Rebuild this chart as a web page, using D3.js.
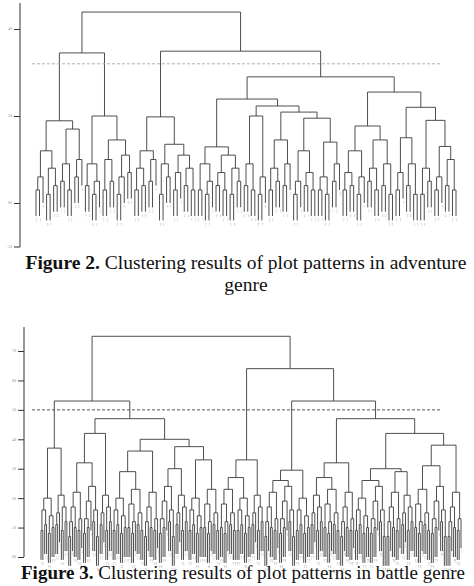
<!DOCTYPE html>
<html>
<head>
<meta charset="utf-8">
<script src="https://cdn.jsdelivr.net/npm/d3@7"></script>
<style>
  body { margin: 0; background: #fff; overflow: hidden; }
  text { font-family: "Liberation Serif", serif; }
</style>
</head>
<body>
<div id="chart"></div>
<script>
// --- Figure 2 (adventure) : merge heights, newick-ish "(a,b)h", x = leaf
const adv_L1   = "((((x,x)0.3,x)0.6,((x,x)0.2,(x,x)0.4)0.8)1.2,(((x,x)0.5,(x,x)0.3)0.9,((x,x)0.6,x)1.0)1.7)1.89";
const adv_L2   = "(((x,x)0.4,((x,x)0.2,x)0.5)0.9,(((x,x)0.3,(x,x)0.5)1.0,(((x,x)0.2,x)0.6,(x,x)0.7)1.1)1.45)2.0";
const adv_R1   = "((((x,x)0.3,(x,x)0.4)0.8,((x,x)0.5,x)1.0)1.2,(((x,x)0.2,(x,x)0.6)0.9,(((x,x)0.3,x)0.7,((x,x)0.4,(x,x)0.3)0.8)1.1)1.35)1.98";
const adv_S202 = "(((x,x)0.3,((x,x)0.2,x)0.5)0.9,(((x,x)0.4,(x,x)0.3)0.7,((x,x)0.2,(x,x)0.5)0.8)1.1)1.29";
const adv_Smid = "(((x,x)0.4,(x,x)0.3)0.9,((x,x)0.2,x)0.6)2.0";
const adv_S273a = "(((x,x)0.3,(x,x)0.5)0.8,((x,x)0.4,x)0.9)1.45";
const adv_S273b = "((((x,x)0.2,x)0.5,((x,x)0.4,(x,x)0.3)0.7)1.2,(((x,x)0.3,(x,x)0.2)0.6,((x,x)0.5,x)0.9)1.4)1.95";
const adv_C366 = "((((x,x)0.3,(x,x)0.4)0.7,((x,x)0.2,x)0.6)1.2,(((x,x)0.5,(x,x)0.3)0.8,((x,x)0.4,(x,x)0.2)0.9)1.45)1.77";
const adv_C426 = "((((x,x)0.3,x)0.7,((x,x)0.4,(x,x)0.2)0.9)1.5,(((x,x)0.2,(x,x)0.5)0.8,(((x,x)0.3,x)0.6,((x,x)0.4,(x,x)0.3)1.0)1.3)1.9)2.2";
const adv_S237 = "(" + adv_S202 + ",(" + adv_Smid + ",(" + adv_S273a + "," + adv_S273b + ")2.09)2.23)2.39";
const adv_S396 = "(" + adv_C366 + "," + adv_C426 + ")2.55";
const adv_tree = "((" + adv_L1 + "," + adv_L2 + ")3.45,(" + adv_R1 + ",(" + adv_S237 + "," + adv_S396 + ")2.9)3.49)4.39";
const adv_ticks = [-1, 0, 2, 4];
const adv_cut = 3.2;

// --- Figure 3 (battle)
const bat_B1 = "(((x,x)0.9,(x,x)1.1)1.6,((x,x)0.8,(x,x)1.0)1.4)2.0";
const bat_B2 = "((((x,x)0.7,x)1.2,(x,x)1.0)1.7,((x,x)0.9,x)1.3)2.2";
const bat_B3 = "(((x,x)1.0,((x,x)0.8,x)1.2)1.8,((x,x)1.1,(x,x)0.9)1.5)2.3";
const bat_B4 = "((((x,x)0.8,(x,x)1.0)1.3,x)1.9,((x,x)1.2,(x,x)0.7)1.6)2.4";
const bat_B5 = "(((x,x)1.1,x)1.5,((x,x)0.9,(x,x)1.2)1.7)2.1";
const bat_n53  = "(" + bat_B1 + "," + bat_B5 + ")3.7";
const bat_n75  = "((" + bat_B2 + "," + bat_B4 + ")3.2," + bat_B5 + ")4.2";
const bat_mid  = "(((" + bat_B1 + "," + bat_B3 + ")2.9," + bat_B2 + ")3.6,((" + bat_B4 + "," + bat_B5 + ")3.0,(" + bat_B1 + "," + bat_B3 + ")3.3)3.75)4.0";
const bat_n287 = "((" + bat_B3 + "," + bat_B1 + ")2.7," + bat_B5 + ")3.3";
const bat_n321 = "((" + bat_B2 + "," + bat_B4 + ")2.6," + bat_B1 + ")2.95";
const bat_n344 = "((" + bat_B5 + "," + bat_B3 + ")2.7," + bat_B2 + ")3.2";
const bat_n400 = "((" + bat_B1 + "," + bat_B4 + ")2.6,(" + bat_B2 + "," + bat_B5 + ")2.9)3.0";
const bat_n447 = "((" + bat_B3 + "," + bat_B4 + ")3.1," + bat_B2 + ")3.8";
const bat_tree = "((" + bat_n53 + ",(" + bat_n75 + "," + bat_mid + ")4.7)5.3,(" + bat_n287 + ",(" + bat_n321 + ",(" + bat_n344 + ",(" + bat_n400 + "," + bat_n447 + ")4.2)4.7)5.3)6.4)7.5";
const bat_ticks = [0, 1, 2, 3, 4, 5, 6, 7];
const bat_cut = 5.0;

function parseTree(s) {
  let i = 0;
  function node() {
    if (s[i] === "(") {
      i++;
      const children = [node()];
      while (s[i] === ",") { i++; children.push(node()); }
      i++; // ')'
      let num = "";
      while (i < s.length && /[0-9.]/.test(s[i])) num += s[i++];
      return { h: +num, children };
    }
    i++; // 'x'
    return { h: null };
  }
  return node();
}

const svg = d3.select("#chart").append("svg").attr("width", 474).attr("height", 586);

function drawDendro(spec) {
  const root = d3.hierarchy(parseTree(spec.tree));
  const leaves = root.leaves();
  const x = d3.scalePoint().domain(d3.range(leaves.length)).range(spec.xr);
  const y = d3.scaleLinear().domain(spec.yd).range(spec.yr);
  leaves.forEach((l, k) => { l.px = x(k); });
  root.eachAfter(n => {
    if (n.children) n.px = (n.children[0].px + n.children[n.children.length - 1].px) / 2;
  });
  const g = svg.append("g");
  const lines = [];
  root.each(n => {
    if (!n.children) return;
    const hy = y(n.data.h);
    lines.push([n.children[0].px, hy, n.children[n.children.length - 1].px, hy]);
    n.children.forEach(c => {
      const cy = c.children ? y(c.data.h) : y(n.data.h - spec.hang);
      lines.push([c.px, hy, c.px, cy]);
    });
  });
  g.selectAll("line.d").data(lines).join("line")
    .attr("x1", d => d[0]).attr("y1", d => d[1]).attr("x2", d => d[2]).attr("y2", d => d[3])
    .attr("stroke", "#3a3a3a").attr("stroke-width", 0.9);
  // tiny illegible leaf labels
  g.selectAll("text.leaf").data(leaves).join("text")
    .attr("transform", d => `translate(${d.px},${y(d.parent.data.h - spec.hang) + 2}) rotate(90)`)
    .attr("font-size", 2.2).attr("fill", "#777").text((d, k) => 100 + k);
  // cut line
  g.append("line").attr("x1", spec.cutx[0]).attr("x2", spec.cutx[1])
    .attr("y1", y(spec.cut)).attr("y2", y(spec.cut))
    .attr("stroke", spec.cutColor).attr("stroke-dasharray", "3,2").attr("stroke-width", 0.9);
  // axis
  const ax = g.append("g").attr("transform", `translate(${spec.axisX},0)`)
    .call(d3.axisLeft(y).tickValues(spec.ticks).tickSize(6).tickPadding(2));
  ax.select(".domain").attr("stroke", "#333").attr("d", `M0,${spec.axisY[0]}V${spec.axisY[1]}`);
  ax.selectAll("text").attr("font-size", 3).attr("fill", "#666");
  ax.selectAll(".tick line").attr("stroke", "#333");
}

drawDendro({ tree: adv_tree, xr: [36, 456], yd: [0, 4], yr: [203, 29], hang: 0.6,
  ticks: adv_ticks, cut: adv_cut, cutx: [32, 440], cutColor: "#aaa", axisX: 20, axisY: [3, 247] });
drawDendro({ tree: bat_tree, xr: [41, 461], yd: [0, 7], yr: [557, 351], hang: 1.0,
  ticks: bat_ticks, cut: bat_cut, cutx: [32, 440], cutColor: "#444", axisX: 24, axisY: [327, 557] });

const captions = [
  { y: 269, size: 19.5, parts: [["Figure 2.", "bold"], [" Clustering results of plot patterns in adventure", "normal"]], x: 246 },
  { y: 291, size: 19.5, parts: [["genre", "normal"]], x: 246 },
  { y: 579, size: 19, parts: [["Figure 3.", "bold"], [" Clustering results of plot patterns in battle genre", "normal"]], x: 243 }
];
captions.forEach(c => {
  const t = svg.append("text").attr("x", c.x).attr("y", c.y).attr("text-anchor", "middle")
    .attr("font-size", c.size).attr("fill", "#111");
  c.parts.forEach(p => t.append("tspan").attr("font-weight", p[1]).text(p[0]));
});
</script>
</body>
</html>
